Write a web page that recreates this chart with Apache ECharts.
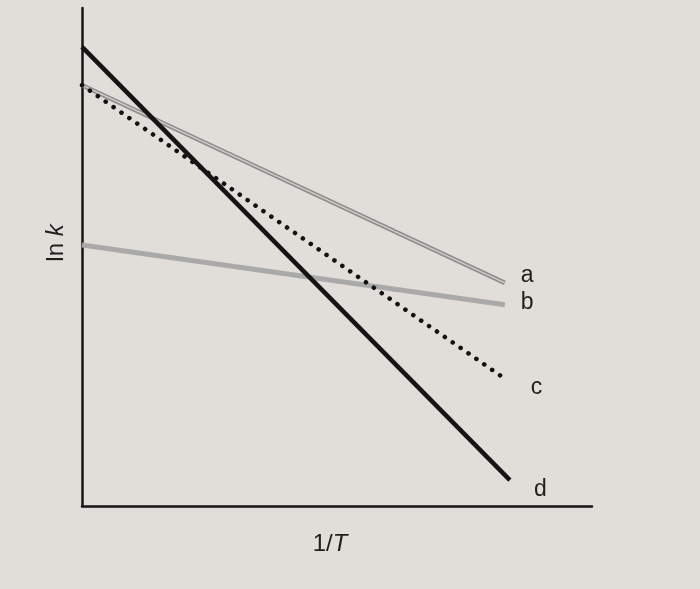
<!DOCTYPE html>
<html><head><meta charset="utf-8">
<script src="https://cdn.jsdelivr.net/npm/echarts@6/dist/echarts.min.js"></script>
<style>html,body{margin:0;padding:0;background:#e1ded9;}#c{width:700px;height:589px;}</style>
</head><body><div id="c"></div>
<script>
// x is 1/T (arbitrary units), y is ln k (arbitrary units)
const seriesNames = ['a', 'b', 'c', 'd'];
const lineA = [[0, 84.5], [82.9, 44.8]];
const lineB = [[0, 52.4], [82.9, 40.4]];
const lineC = [[0, 84.5], [83.3, 25.3]];
const lineD = [[0, 92.2], [83.9, 5.2]];
const xAxisName = '1/T';
const yAxisName = 'ln k';

const font = 'Liberation Sans, Arial, sans-serif';
const bg = '#e1ded9';
function endLbl(name, ox, oy) {
  return { show: true, formatter: () => name, color: '#1e1e1e', fontSize: 23, fontFamily: font, offset: [ox, oy], distance: 8 };
}
const rich = { n: { fontSize: 24, fontFamily: font, color: '#1e1e1e' }, i: { fontSize: 24, fontFamily: font, fontStyle: 'italic', color: '#1e1e1e' } };
const chart = echarts.init(document.getElementById('c'));
chart.setOption({
  backgroundColor: bg,
  animation: false,
  grid: { left: 82, right: 108, top: 8, bottom: 83 },
  xAxis: {
    type: 'value', min: 0, max: 100,
    axisLine: { show: true, lineStyle: { color: '#151515', width: 2.5 } },
    axisTick: { show: false }, axisLabel: { show: false }, splitLine: { show: false },
    name: '{n|1/}{i|T}', nameLocation: 'middle', nameGap: 26,
    nameTextStyle: { rich: rich, padding: [0, 14, 0, 0] }
  },
  yAxis: {
    type: 'value', min: 0, max: 100,
    axisLine: { show: true, lineStyle: { color: '#151515', width: 2.5 } },
    axisTick: { show: false }, axisLabel: { show: false }, splitLine: { show: false },
    name: '{n|ln }{i|k}', nameLocation: 'middle', nameGap: 14,
    nameTextStyle: { rich: rich, padding: [0, 0, 0, 28] }
  },
  series: [
    { name: 'b', type: 'line', data: lineB, symbol: 'none', z: 2,
      lineStyle: { color: '#a9a9a9', width: 5 }, endLabel: endLbl(seriesNames[1], 8, -2) },
    { name: 'a', type: 'line', data: lineA, symbol: 'none', z: 3,
      lineStyle: { color: '#8c8c8c', width: 4.5 }, endLabel: endLbl(seriesNames[0], 8, -7) },
    { name: 'a-gap', type: 'line', data: lineA, symbol: 'none', z: 4,
      lineStyle: { color: '#d2cfca', width: 1.5 } },
    { name: 'c', type: 'line', data: lineC, symbol: 'none', z: 5,
      lineStyle: { color: '#111', width: 4.5, type: [0.1, 9.5], cap: 'round' }, endLabel: endLbl(seriesNames[2], 16, 8) },
    { name: 'd', type: 'line', data: lineD, symbol: 'none', z: 6,
      lineStyle: { color: '#141414', width: 4.5 }, endLabel: endLbl(seriesNames[3], 16, 10) }
  ]
});
</script></body></html>
